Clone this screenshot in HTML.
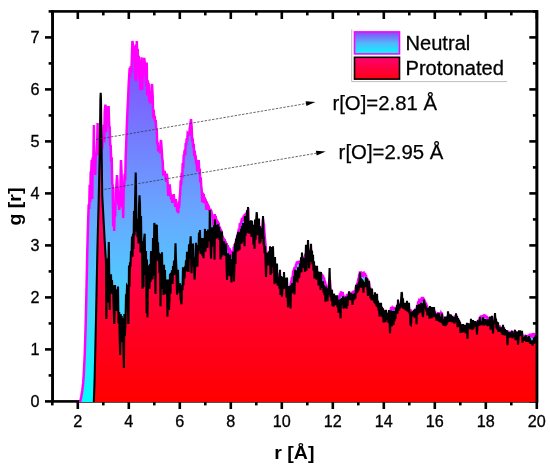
<!DOCTYPE html>
<html lang="en">
<head>
<meta charset="utf-8">
<title>g [r] vs r [Å] - Neutral / Protonated</title>
<style>
  html, body { margin: 0; padding: 0; background: #ffffff; }
  body { width: 550px; height: 471px; overflow: hidden; }
  svg { display: block; }
  text { font-family: "Liberation Sans", sans-serif; fill: #000; }
  .tick text { font-size: 16.2px; stroke: #000; stroke-width: 0.3px; }
  .axis-title { font-size: 18.5px; font-weight: bold; }
  .legend text { font-size: 20.1px; stroke: #000; stroke-width: 0.3px; }
  .note { font-size: 20px; stroke: #000; stroke-width: 0.25px; }
</style>
</head>
<body>
<svg width="550" height="471" viewBox="0 0 550 471">
  <defs>
    <linearGradient id="gNeutral" gradientUnits="userSpaceOnUse" x1="0" y1="41" x2="0" y2="401.3">
      <stop offset="0" stop-color="#8444ff"/>
      <stop offset="0.47" stop-color="#68a6ff"/>
      <stop offset="0.72" stop-color="#4cd2ff"/>
      <stop offset="1" stop-color="#00ffff"/>
    </linearGradient>
    <linearGradient id="gProt" gradientUnits="userSpaceOnUse" x1="0" y1="93" x2="0" y2="401.3">
      <stop offset="0" stop-color="#ff00a0"/>
      <stop offset="1" stop-color="#ff0000"/>
    </linearGradient>
    <linearGradient id="gNeutralL" x1="0" y1="0" x2="0" y2="1">
      <stop offset="0" stop-color="#8848f6"/>
      <stop offset="0.5" stop-color="#54b4fc"/>
      <stop offset="1" stop-color="#06fcfe"/>
    </linearGradient>
    <linearGradient id="gProtL" x1="0" y1="0" x2="0" y2="1">
      <stop offset="0" stop-color="#ff0070"/>
      <stop offset="1" stop-color="#ff0014"/>
    </linearGradient>
    <clipPath id="plotclip"><rect x="52.6" y="11.4" width="484.29999999999995" height="390.8"/></clipPath>
  </defs>
  <rect x="0" y="0" width="550" height="471" fill="#ffffff"/>

  <!-- axes frame -->
  <g stroke="#000" stroke-width="2.6" fill="none" stroke-linecap="butt">
    <rect x="52.6" y="11.4" width="484.29999999999995" height="390.0"/>
    <line x1="52.3" y1="401.4" x2="52.3" y2="405.4"/><line x1="52.3" y1="11.4" x2="52.3" y2="15.4"/><line x1="77.8" y1="401.4" x2="77.8" y2="409.0"/><line x1="77.8" y1="11.4" x2="77.8" y2="19.0"/><line x1="103.3" y1="401.4" x2="103.3" y2="405.4"/><line x1="103.3" y1="11.4" x2="103.3" y2="15.4"/><line x1="128.8" y1="401.4" x2="128.8" y2="409.0"/><line x1="128.8" y1="11.4" x2="128.8" y2="19.0"/><line x1="154.3" y1="401.4" x2="154.3" y2="405.4"/><line x1="154.3" y1="11.4" x2="154.3" y2="15.4"/><line x1="179.8" y1="401.4" x2="179.8" y2="409.0"/><line x1="179.8" y1="11.4" x2="179.8" y2="19.0"/><line x1="205.3" y1="401.4" x2="205.3" y2="405.4"/><line x1="205.3" y1="11.4" x2="205.3" y2="15.4"/><line x1="230.8" y1="401.4" x2="230.8" y2="409.0"/><line x1="230.8" y1="11.4" x2="230.8" y2="19.0"/><line x1="256.3" y1="401.4" x2="256.3" y2="405.4"/><line x1="256.3" y1="11.4" x2="256.3" y2="15.4"/><line x1="281.8" y1="401.4" x2="281.8" y2="409.0"/><line x1="281.8" y1="11.4" x2="281.8" y2="19.0"/><line x1="307.3" y1="401.4" x2="307.3" y2="405.4"/><line x1="307.3" y1="11.4" x2="307.3" y2="15.4"/><line x1="332.8" y1="401.4" x2="332.8" y2="409.0"/><line x1="332.8" y1="11.4" x2="332.8" y2="19.0"/><line x1="358.3" y1="401.4" x2="358.3" y2="405.4"/><line x1="358.3" y1="11.4" x2="358.3" y2="15.4"/><line x1="383.8" y1="401.4" x2="383.8" y2="409.0"/><line x1="383.8" y1="11.4" x2="383.8" y2="19.0"/><line x1="409.3" y1="401.4" x2="409.3" y2="405.4"/><line x1="409.3" y1="11.4" x2="409.3" y2="15.4"/><line x1="434.8" y1="401.4" x2="434.8" y2="409.0"/><line x1="434.8" y1="11.4" x2="434.8" y2="19.0"/><line x1="460.3" y1="401.4" x2="460.3" y2="405.4"/><line x1="460.3" y1="11.4" x2="460.3" y2="15.4"/><line x1="485.8" y1="401.4" x2="485.8" y2="409.0"/><line x1="485.8" y1="11.4" x2="485.8" y2="19.0"/><line x1="511.3" y1="401.4" x2="511.3" y2="405.4"/><line x1="511.3" y1="11.4" x2="511.3" y2="15.4"/><line x1="536.8" y1="401.4" x2="536.8" y2="409.0"/><line x1="536.8" y1="11.4" x2="536.8" y2="19.0"/><line x1="52.6" y1="401.4" x2="45.0" y2="401.4"/><line x1="536.9" y1="401.4" x2="529.3" y2="401.4"/><line x1="52.6" y1="375.4" x2="48.6" y2="375.4"/><line x1="536.9" y1="375.4" x2="532.9" y2="375.4"/><line x1="52.6" y1="349.4" x2="45.0" y2="349.4"/><line x1="536.9" y1="349.4" x2="529.3" y2="349.4"/><line x1="52.6" y1="323.4" x2="48.6" y2="323.4"/><line x1="536.9" y1="323.4" x2="532.9" y2="323.4"/><line x1="52.6" y1="297.4" x2="45.0" y2="297.4"/><line x1="536.9" y1="297.4" x2="529.3" y2="297.4"/><line x1="52.6" y1="271.4" x2="48.6" y2="271.4"/><line x1="536.9" y1="271.4" x2="532.9" y2="271.4"/><line x1="52.6" y1="245.4" x2="45.0" y2="245.4"/><line x1="536.9" y1="245.4" x2="529.3" y2="245.4"/><line x1="52.6" y1="219.4" x2="48.6" y2="219.4"/><line x1="536.9" y1="219.4" x2="532.9" y2="219.4"/><line x1="52.6" y1="193.4" x2="45.0" y2="193.4"/><line x1="536.9" y1="193.4" x2="529.3" y2="193.4"/><line x1="52.6" y1="167.4" x2="48.6" y2="167.4"/><line x1="536.9" y1="167.4" x2="532.9" y2="167.4"/><line x1="52.6" y1="141.4" x2="45.0" y2="141.4"/><line x1="536.9" y1="141.4" x2="529.3" y2="141.4"/><line x1="52.6" y1="115.4" x2="48.6" y2="115.4"/><line x1="536.9" y1="115.4" x2="532.9" y2="115.4"/><line x1="52.6" y1="89.4" x2="45.0" y2="89.4"/><line x1="536.9" y1="89.4" x2="529.3" y2="89.4"/><line x1="52.6" y1="63.4" x2="48.6" y2="63.4"/><line x1="536.9" y1="63.4" x2="532.9" y2="63.4"/><line x1="52.6" y1="37.4" x2="45.0" y2="37.4"/><line x1="536.9" y1="37.4" x2="529.3" y2="37.4"/><line x1="52.6" y1="11.4" x2="48.6" y2="11.4"/><line x1="536.9" y1="11.4" x2="532.9" y2="11.4"/>
  </g>

  <!-- data -->
  <g clip-path="url(#plotclip)">
    <path d="M80.2 402.2 L80.7 399.5 L81.2 397.0 L81.7 394.0 L82.2 391.0 L82.7 386.8 L83.2 382.7 L83.7 375.2 L84.2 365.6 L84.7 355.9 L85.2 340.4 L85.7 323.4 L86.2 302.9 L86.7 280.0 L87.2 255.0 L87.7 236.0 L88.2 218.5 L88.7 204.2 L89.2 208.9 L89.7 184.7 L90.2 202.6 L90.7 171.6 L91.2 173.0 L91.7 159.9 L92.2 199.2 L92.7 157.3 L93.2 168.9 L93.9 125.0 L94.2 163.4 L94.7 160.0 L95.2 174.9 L95.7 156.2 L96.2 154.5 L96.7 152.2 L97.2 141.4 L97.6 123.0 L98.2 155.0 L98.7 150.8 L99.2 152.2 L99.7 151.1 L100.2 152.2 L100.7 145.1 L101.2 144.8 L101.7 145.6 L102.2 149.2 L102.7 138.0 L103.2 140.0 L103.7 124.8 L104.2 142.5 L104.7 111.8 L105.4 104.7 L105.7 106.7 L106.2 132.1 L106.7 112.4 L107.2 115.0 L107.7 106.7 L108.2 114.3 L108.6 106.0 L109.2 125.9 L109.7 127.0 L110.2 145.1 L110.7 145.6 L111.2 162.3 L111.7 157.3 L112.2 183.6 L112.7 185.1 L113.2 226.4 L113.7 210.7 L114.2 231.0 L114.7 203.2 L115.2 216.4 L115.7 188.5 L116.2 188.1 L116.7 181.1 L117.0 175.0 L117.7 187.5 L118.2 204.6 L118.7 199.2 L119.2 210.0 L119.7 204.7 L120.2 201.7 L120.7 171.1 L121.0 160.0 L121.7 177.1 L122.2 207.4 L122.7 196.9 L123.2 218.1 L123.7 189.8 L124.2 184.6 L124.7 173.9 L125.2 180.4 L125.7 156.2 L126.2 144.5 L126.7 129.5 L127.2 116.8 L127.7 106.0 L128.2 96.4 L128.7 83.5 L129.2 75.9 L129.7 67.8 L130.2 77.1 L130.7 66.0 L131.2 72.5 L131.7 62.9 L132.4 41.0 L132.7 42.3 L133.2 61.2 L133.7 47.7 L134.2 54.9 L134.6 46.0 L135.2 79.4 L135.7 44.5 L136.2 81.3 L136.8 41.0 L137.2 60.7 L137.7 48.7 L138.2 71.0 L138.7 55.7 L139.2 79.3 L139.7 60.6 L140.2 90.2 L140.7 74.4 L141.2 83.2 L141.5 57.3 L142.2 89.9 L142.7 62.9 L143.2 77.1 L143.7 67.2 L144.2 57.8 L144.7 62.3 L145.2 65.8 L145.7 62.9 L146.2 86.0 L146.7 62.4 L147.2 95.6 L147.7 80.3 L148.2 85.1 L148.7 83.3 L149.2 101.5 L149.7 91.0 L150.2 103.4 L150.7 96.5 L151.2 102.8 L151.7 85.5 L152.0 84.0 L152.7 96.5 L153.2 117.8 L153.7 109.8 L154.2 119.5 L154.7 115.8 L155.2 122.5 L155.7 120.1 L156.2 128.7 L156.7 129.6 L157.2 143.6 L157.7 142.0 L158.2 151.4 L158.7 148.1 L159.2 149.1 L159.7 147.5 L160.2 153.5 L160.7 141.4 L161.0 140.0 L161.7 149.6 L162.2 158.3 L162.7 161.3 L163.2 173.1 L163.7 172.5 L164.2 175.3 L164.7 171.0 L165.2 175.9 L165.7 176.8 L166.2 181.8 L166.7 173.6 L167.2 176.6 L167.7 183.9 L168.2 196.0 L168.7 185.6 L169.2 188.1 L169.7 184.4 L170.2 190.5 L170.7 194.7 L171.2 199.5 L171.7 194.8 L172.2 203.0 L172.7 197.0 L173.2 201.4 L173.7 194.0 L174.2 199.9 L174.7 200.7 L175.2 206.8 L175.7 199.1 L176.2 203.5 L176.7 205.9 L177.2 211.7 L177.7 209.2 L178.2 213.1 L178.7 204.4 L179.2 205.0 L179.7 197.6 L180.2 192.7 L180.7 180.4 L181.2 185.1 L181.7 172.9 L182.2 178.8 L182.7 163.0 L183.2 168.8 L183.7 155.6 L184.2 154.0 L184.7 150.0 L185.2 155.5 L185.7 143.0 L186.2 145.3 L186.7 138.3 L187.2 140.7 L187.7 133.3 L188.2 133.9 L188.7 133.8 L189.2 135.6 L189.7 128.6 L190.2 125.1 L190.7 122.0 L191.0 119.0 L191.7 127.9 L192.2 141.8 L192.7 138.2 L193.2 147.6 L193.7 143.7 L194.2 156.1 L194.7 150.5 L195.2 157.3 L195.7 157.0 L196.2 164.3 L196.7 159.9 L197.2 171.5 L197.7 162.2 L198.2 165.0 L198.7 160.0 L199.2 171.8 L199.7 168.5 L200.2 182.1 L200.7 177.4 L201.2 185.4 L201.7 190.1 L202.2 202.4 L202.7 192.5 L203.2 200.7 L203.7 193.9 L204.2 203.1 L204.7 197.7 L205.2 199.4 L205.7 200.2 L206.2 209.7 L206.7 201.4 L207.2 206.2 L207.7 203.6 L208.2 210.0 L208.7 205.5 L209.2 211.2 L209.7 208.8 L210.2 210.4 L210.7 210.2 L211.2 214.2 L211.7 213.4 L212.2 216.8 L212.7 218.1 L213.2 225.4 L213.7 215.8 L214.2 220.1 L214.7 214.2 L215.2 217.5 L215.7 215.8 L216.2 223.2 L216.7 219.3 L217.2 223.6 L217.7 220.8 L218.2 225.3 L218.7 222.6 L219.2 229.3 L219.7 226.7 L220.2 231.2 L220.7 228.8 L221.2 233.1 L221.7 232.7 L222.2 239.3 L222.7 235.9 L223.2 239.5 L223.7 237.9 L224.2 243.3 L224.7 239.2 L225.2 243.4 L225.7 241.3 L226.2 247.9 L226.7 243.2 L227.2 249.7 L227.7 245.2 L228.2 248.4 L228.7 247.3 L229.2 253.6 L229.7 248.5 L230.2 253.3 L230.7 250.4 L231.2 257.7 L231.7 252.3 L232.2 254.2 L232.7 250.6 L233.2 254.5 L233.7 246.9 L234.2 249.4 L234.7 244.0 L235.2 248.9 L235.7 241.3 L236.2 245.4 L236.7 237.5 L237.2 239.7 L237.7 233.4 L238.2 235.0 L238.7 228.8 L239.2 231.8 L239.7 225.3 L240.2 225.7 L240.7 223.2 L241.2 222.1 L241.7 219.7 L242.2 220.3 L242.7 218.9 L243.2 218.7 L243.7 215.6 L244.2 220.9 L244.7 214.1 L245.2 219.4 L245.7 213.4 L246.2 217.7 L246.7 212.3 L247.2 214.5 L247.7 210.6 L248.2 210.3 L248.5 225.1 L249.0 223.6 L249.5 228.9 L250.0 226.6 L250.5 229.7 L251.0 226.0 L251.5 227.9 L252.0 227.5 L252.5 230.2 L253.0 227.3 L253.5 229.7 L254.0 228.8 L254.5 229.4 L255.0 227.1 L255.5 230.1 L256.0 226.3 L256.5 227.7 L257.0 225.3 L257.5 227.4 L258.0 225.8 L258.5 227.0 L259.0 226.3 L259.5 230.7 L260.0 227.0 L260.5 230.5 L261.0 227.9 L261.5 230.9 L262.0 227.6 L262.5 226.2 L263.0 219.0 L263.5 223.3 L264.0 224.3 L264.5 234.2 L265.0 238.5 L265.5 245.0 L266.0 250.2 L266.5 256.1 L267.0 253.7 L267.5 257.6 L268.0 256.6 L268.5 259.9 L269.0 260.4 L269.5 260.7 L270.0 258.2 L270.5 259.3 L271.0 256.9 L271.5 258.8 L272.0 254.0 L272.5 258.9 L273.0 259.2 L273.5 264.1 L274.0 263.8 L274.5 268.6 L275.0 267.5 L275.5 270.1 L276.0 270.7 L276.5 273.5 L277.0 272.4 L277.5 274.7 L278.0 274.7 L278.5 277.5 L279.0 276.3 L279.5 279.1 L280.0 278.2 L280.5 282.5 L281.0 281.0 L281.5 284.1 L282.0 281.7 L282.5 286.4 L283.0 283.2 L283.5 286.3 L284.0 284.1 L284.5 288.7 L285.0 285.6 L285.5 289.2 L286.0 285.5 L286.5 289.0 L287.0 287.3 L287.5 288.9 L288.0 287.3 L288.5 291.1 L289.0 287.7 L289.5 291.3 L290.0 287.1 L290.5 285.7 L291.0 282.2 L291.5 280.9 L292.0 277.0 L292.5 279.0 L293.0 272.8 L293.5 273.3 L294.0 269.7 L294.5 270.1 L295.0 266.7 L295.5 268.4 L296.0 264.5 L296.5 264.0 L297.0 261.6 L297.5 263.4 L298.0 261.4 L298.5 263.8 L299.0 260.6 L299.5 262.6 L300.0 263.1 L300.5 264.5 L301.0 261.7 L301.5 262.5 L302.0 260.3 L302.5 263.9 L303.0 259.3 L303.5 261.2 L304.0 258.5 L304.5 258.9 L305.0 256.1 L305.5 256.7 L306.0 254.1 L306.5 257.8 L307.0 252.5 L307.5 253.9 L308.0 248.0 L308.5 252.6 L309.0 250.1 L309.5 253.6 L310.0 250.9 L310.5 253.5 L311.0 249.3 L311.5 254.4 L312.0 255.4 L312.5 262.8 L313.0 261.4 L313.5 267.3 L314.0 268.3 L314.5 270.6 L315.0 268.9 L315.5 272.4 L316.0 269.4 L316.5 272.8 L317.0 271.1 L317.5 275.4 L318.0 274.0 L318.5 275.8 L319.0 274.0 L319.5 278.0 L320.0 276.0 L320.5 278.8 L321.0 274.9 L321.5 276.0 L322.0 273.9 L322.5 277.4 L323.0 275.1 L323.5 279.1 L324.0 277.4 L324.5 280.9 L325.0 281.5 L325.5 284.2 L326.0 285.2 L326.5 291.3 L327.0 290.2 L327.5 292.7 L328.0 288.6 L328.5 289.1 L329.0 282.6 L329.5 280.2 L330.0 280.7 L330.5 288.5 L331.0 289.3 L331.5 294.5 L332.0 293.4 L332.5 296.0 L333.0 295.1 L333.5 298.4 L334.0 296.2 L334.5 299.5 L335.0 297.8 L335.5 300.4 L336.0 300.4 L336.5 301.3 L337.0 300.9 L337.5 303.9 L338.0 300.2 L338.5 299.9 L339.0 297.0 L339.5 297.2 L340.0 293.4 L340.5 296.0 L341.0 291.3 L341.5 294.3 L342.0 292.3 L342.5 294.7 L343.0 294.2 L343.5 297.9 L344.0 296.8 L344.5 297.8 L345.0 296.2 L345.5 299.0 L346.0 296.0 L346.5 298.5 L347.0 294.0 L347.5 298.4 L348.0 294.2 L348.5 296.4 L349.0 293.2 L349.5 296.0 L350.0 292.0 L350.5 295.7 L351.0 292.6 L351.5 295.9 L352.0 291.9 L352.5 294.5 L353.0 291.1 L353.5 292.0 L354.0 290.6 L354.5 293.9 L355.0 290.6 L355.5 291.5 L356.0 287.4 L356.5 287.1 L357.0 284.0 L357.5 283.4 L358.0 280.9 L358.5 281.6 L359.0 276.4 L359.5 276.9 L360.0 271.3 L360.5 276.3 L361.0 273.5 L361.5 277.0 L362.0 273.9 L362.5 274.7 L363.0 273.8 L363.5 275.1 L364.0 274.1 L364.5 276.1 L365.0 272.9 L365.5 276.3 L366.0 274.8 L366.5 279.5 L367.0 277.9 L367.5 282.2 L368.0 279.4 L368.5 285.3 L369.0 282.7 L369.5 288.2 L370.0 286.9 L370.5 292.1 L371.0 289.8 L371.5 296.1 L372.0 294.3 L372.5 298.1 L373.0 295.2 L373.5 296.8 L374.0 296.9 L374.5 297.7 L375.0 297.6 L375.5 299.0 L376.0 298.1 L376.5 302.6 L377.0 300.5 L377.5 304.1 L378.0 302.9 L378.5 306.1 L379.0 305.6 L379.5 310.2 L380.0 308.2 L380.5 309.8 L381.0 308.2 L381.5 312.5 L382.0 309.8 L382.5 312.0 L383.0 310.3 L383.5 313.6 L384.0 311.5 L384.5 312.3 L385.0 312.3 L385.5 315.8 L386.0 313.2 L386.5 315.4 L387.0 313.9 L387.5 315.3 L388.0 314.7 L388.5 315.4 L389.0 312.8 L389.5 312.2 L390.0 311.2 L390.5 310.8 L391.0 308.4 L391.5 308.6 L392.0 307.8 L392.5 309.1 L393.0 306.8 L393.5 310.0 L394.0 307.9 L394.5 310.0 L395.0 308.7 L395.5 309.0 L396.0 307.2 L396.5 309.3 L397.0 308.2 L397.5 308.5 L398.0 305.1 L398.5 307.5 L399.0 304.8 L399.5 305.7 L400.0 305.2 L400.5 307.8 L401.0 302.1 L401.5 301.7 L402.0 300.4 L402.5 307.8 L403.0 304.8 L403.5 306.1 L404.0 304.8 L404.5 308.1 L405.0 304.3 L405.5 306.9 L406.0 306.1 L406.5 309.1 L407.0 305.7 L407.5 309.7 L408.0 308.2 L408.5 308.8 L409.0 309.0 L409.5 310.2 L410.0 310.1 L410.5 310.5 L411.0 309.6 L411.5 314.0 L412.0 310.8 L412.5 314.7 L413.0 310.9 L413.5 314.6 L414.0 310.7 L414.5 314.8 L415.0 311.0 L415.5 311.6 L416.0 309.1 L416.5 311.8 L417.0 306.9 L417.5 306.6 L418.0 303.0 L418.5 303.3 L419.0 301.1 L419.5 302.0 L420.0 299.0 L420.5 302.6 L421.0 298.5 L421.5 300.9 L422.0 296.9 L422.5 300.7 L423.0 296.9 L423.5 301.7 L424.0 298.7 L424.5 301.7 L425.0 300.9 L425.5 305.1 L426.0 302.8 L426.5 305.8 L427.0 305.9 L427.5 310.0 L428.0 307.9 L428.5 311.4 L429.0 308.4 L429.5 310.8 L430.0 308.9 L430.5 311.7 L431.0 309.3 L431.5 311.1 L432.0 308.4 L432.5 312.0 L433.0 309.6 L433.5 311.2 L434.0 309.8 L434.5 314.0 L435.0 311.2 L435.5 316.2 L436.0 313.2 L436.5 317.7 L437.0 314.1 L437.5 315.8 L438.0 313.5 L438.5 313.7 L439.0 312.4 L439.5 316.1 L440.0 312.6 L440.5 314.9 L441.0 313.2 L441.5 314.4 L442.0 314.1 L442.5 317.2 L443.0 317.7 L443.5 318.7 L444.0 317.8 L444.5 321.4 L445.0 320.1 L445.5 320.3 L446.0 317.4 L446.5 319.0 L447.0 316.8 L447.5 318.5 L448.0 315.3 L448.5 318.6 L449.0 315.4 L449.5 318.6 L450.0 316.5 L450.5 317.5 L451.0 316.9 L451.5 320.0 L452.0 317.0 L452.5 317.3 L453.0 315.9 L453.5 318.2 L454.0 316.2 L454.5 318.0 L455.0 317.1 L455.5 318.7 L456.0 316.8 L456.5 320.3 L457.0 317.3 L457.5 321.8 L458.0 318.7 L458.5 322.1 L459.0 320.8 L459.5 324.2 L460.0 323.3 L460.5 327.3 L461.0 324.3 L461.5 328.3 L462.0 325.5 L462.5 328.0 L463.0 325.7 L463.5 329.2 L464.0 326.8 L464.5 328.5 L465.0 326.8 L465.5 328.1 L466.0 327.3 L466.5 330.3 L467.0 326.7 L467.5 329.2 L468.0 325.6 L468.5 326.8 L469.0 325.1 L469.5 328.7 L470.0 324.3 L470.5 325.9 L471.0 323.9 L471.5 324.8 L472.0 323.8 L472.5 327.3 L473.0 322.9 L473.5 327.1 L474.0 322.5 L474.5 326.2 L475.0 322.6 L475.5 325.9 L476.0 323.4 L476.5 326.6 L477.0 321.3 L477.5 325.1 L478.0 320.2 L478.5 322.9 L479.0 318.8 L479.5 322.1 L480.0 316.6 L480.5 318.4 L481.0 315.4 L481.5 316.9 L482.0 315.7 L482.5 318.2 L483.0 315.1 L483.5 317.3 L484.0 314.6 L484.5 315.8 L485.0 314.7 L485.5 317.0 L486.0 315.7 L486.5 317.9 L487.0 316.0 L487.5 320.2 L488.0 317.7 L488.5 319.1 L489.0 318.9 L489.5 321.4 L490.0 320.5 L490.5 321.8 L491.0 320.8 L491.5 324.4 L492.0 320.4 L492.5 325.3 L493.0 320.6 L493.5 323.2 L494.0 321.6 L494.5 321.0 L495.0 317.2 L495.5 322.2 L496.0 322.1 L496.5 324.8 L497.0 322.9 L497.5 325.9 L498.0 324.8 L498.5 329.3 L499.0 325.6 L499.5 328.3 L500.0 327.3 L500.5 330.9 L501.0 328.5 L501.5 329.4 L502.0 328.5 L502.5 331.6 L503.0 329.9 L503.5 330.8 L504.0 330.7 L504.5 334.1 L505.0 331.1 L505.5 335.4 L506.0 331.0 L506.5 335.8 L507.0 332.6 L507.5 333.5 L508.0 333.0 L508.5 334.7 L509.0 332.9 L509.5 333.8 L510.0 333.0 L510.5 334.0 L511.0 333.1 L511.5 334.4 L512.0 332.2 L512.5 334.8 L513.0 332.9 L513.5 333.3 L514.0 332.5 L514.5 335.2 L515.0 331.9 L515.5 336.0 L516.0 331.5 L516.5 333.8 L517.0 332.9 L517.5 335.9 L518.0 332.2 L518.5 335.4 L519.0 332.5 L519.5 335.8 L520.0 333.6 L520.5 334.8 L521.0 334.4 L521.5 336.8 L522.0 333.4 L522.5 338.3 L523.0 334.8 L523.5 338.3 L524.0 335.0 L524.5 339.6 L525.0 336.3 L525.5 339.1 L526.0 337.2 L526.5 338.2 L527.0 336.8 L527.5 339.1 L528.0 334.8 L528.5 337.7 L529.0 334.6 L529.5 336.1 L530.0 333.9 L530.5 337.2 L531.0 333.6 L531.5 337.7 L532.0 334.3 L532.5 335.4 L533.0 333.4 L533.5 335.7 L534.0 333.1 L534.5 337.4 L535.0 333.4 L535.5 337.3 L536.0 335.9 L536.5 338.8 L536.8 336.4 L536.8 402.2 L80.2 402.2 Z" fill="url(#gNeutral)" stroke="none"/>
    <path d="M80.2 402.2 L80.7 399.5 L81.2 397.0 L81.7 394.0 L82.2 391.0 L82.7 386.8 L83.2 382.7 L83.7 375.2 L84.2 365.6 L84.7 355.9 L85.2 340.4 L85.7 323.4 L86.2 302.9 L86.7 280.0 L87.2 255.0 L87.7 236.0 L88.2 218.5 L88.7 204.2 L89.2 208.9 L89.7 184.7 L90.2 202.6 L90.7 171.6 L91.2 173.0 L91.7 159.9 L92.2 199.2 L92.7 157.3 L93.2 168.9 L93.9 125.0 L94.2 163.4 L94.7 160.0 L95.2 174.9 L95.7 156.2 L96.2 154.5 L96.7 152.2 L97.2 141.4 L97.6 123.0 L98.2 155.0 L98.7 150.8 L99.2 152.2 L99.7 151.1 L100.2 152.2 L100.7 145.1 L101.2 144.8 L101.7 145.6 L102.2 149.2 L102.7 138.0 L103.2 140.0 L103.7 124.8 L104.2 142.5 L104.7 111.8 L105.4 104.7 L105.7 106.7 L106.2 132.1 L106.7 112.4 L107.2 115.0 L107.7 106.7 L108.2 114.3 L108.6 106.0 L109.2 125.9 L109.7 127.0 L110.2 145.1 L110.7 145.6 L111.2 162.3 L111.7 157.3 L112.2 183.6 L112.7 185.1 L113.2 226.4 L113.7 210.7 L114.2 231.0 L114.7 203.2 L115.2 216.4 L115.7 188.5 L116.2 188.1 L116.7 181.1 L117.0 175.0 L117.7 187.5 L118.2 204.6 L118.7 199.2 L119.2 210.0 L119.7 204.7 L120.2 201.7 L120.7 171.1 L121.0 160.0 L121.7 177.1 L122.2 207.4 L122.7 196.9 L123.2 218.1 L123.7 189.8 L124.2 184.6 L124.7 173.9 L125.2 180.4 L125.7 156.2 L126.2 144.5 L126.7 129.5 L127.2 116.8 L127.7 106.0 L128.2 96.4 L128.7 83.5 L129.2 75.9 L129.7 67.8 L130.2 77.1 L130.7 66.0 L131.2 72.5 L131.7 62.9 L132.4 41.0 L132.7 42.3 L133.2 61.2 L133.7 47.7 L134.2 54.9 L134.6 46.0 L135.2 79.4 L135.7 44.5 L136.2 81.3 L136.8 41.0 L137.2 60.7 L137.7 48.7 L138.2 71.0 L138.7 55.7 L139.2 79.3 L139.7 60.6 L140.2 90.2 L140.7 74.4 L141.2 83.2 L141.5 57.3 L142.2 89.9 L142.7 62.9 L143.2 77.1 L143.7 67.2 L144.2 57.8 L144.7 62.3 L145.2 65.8 L145.7 62.9 L146.2 86.0 L146.7 62.4 L147.2 95.6 L147.7 80.3 L148.2 85.1 L148.7 83.3 L149.2 101.5 L149.7 91.0 L150.2 103.4 L150.7 96.5 L151.2 102.8 L151.7 85.5 L152.0 84.0 L152.7 96.5 L153.2 117.8 L153.7 109.8 L154.2 119.5 L154.7 115.8 L155.2 122.5 L155.7 120.1 L156.2 128.7 L156.7 129.6 L157.2 143.6 L157.7 142.0 L158.2 151.4 L158.7 148.1 L159.2 149.1 L159.7 147.5 L160.2 153.5 L160.7 141.4 L161.0 140.0 L161.7 149.6 L162.2 158.3 L162.7 161.3 L163.2 173.1 L163.7 172.5 L164.2 175.3 L164.7 171.0 L165.2 175.9 L165.7 176.8 L166.2 181.8 L166.7 173.6 L167.2 176.6 L167.7 183.9 L168.2 196.0 L168.7 185.6 L169.2 188.1 L169.7 184.4 L170.2 190.5 L170.7 194.7 L171.2 199.5 L171.7 194.8 L172.2 203.0 L172.7 197.0 L173.2 201.4 L173.7 194.0 L174.2 199.9 L174.7 200.7 L175.2 206.8 L175.7 199.1 L176.2 203.5 L176.7 205.9 L177.2 211.7 L177.7 209.2 L178.2 213.1 L178.7 204.4 L179.2 205.0 L179.7 197.6 L180.2 192.7 L180.7 180.4 L181.2 185.1 L181.7 172.9 L182.2 178.8 L182.7 163.0 L183.2 168.8 L183.7 155.6 L184.2 154.0 L184.7 150.0 L185.2 155.5 L185.7 143.0 L186.2 145.3 L186.7 138.3 L187.2 140.7 L187.7 133.3 L188.2 133.9 L188.7 133.8 L189.2 135.6 L189.7 128.6 L190.2 125.1 L190.7 122.0 L191.0 119.0 L191.7 127.9 L192.2 141.8 L192.7 138.2 L193.2 147.6 L193.7 143.7 L194.2 156.1 L194.7 150.5 L195.2 157.3 L195.7 157.0 L196.2 164.3 L196.7 159.9 L197.2 171.5 L197.7 162.2 L198.2 165.0 L198.7 160.0 L199.2 171.8 L199.7 168.5 L200.2 182.1 L200.7 177.4 L201.2 185.4 L201.7 190.1 L202.2 202.4 L202.7 192.5 L203.2 200.7 L203.7 193.9 L204.2 203.1 L204.7 197.7 L205.2 199.4 L205.7 200.2 L206.2 209.7 L206.7 201.4 L207.2 206.2 L207.7 203.6 L208.2 210.0 L208.7 205.5 L209.2 211.2 L209.7 208.8 L210.2 210.4 L210.7 210.2 L211.2 214.2 L211.7 213.4 L212.2 216.8 L212.7 218.1 L213.2 225.4 L213.7 215.8 L214.2 220.1 L214.7 214.2 L215.2 217.5 L215.7 215.8 L216.2 223.2 L216.7 219.3 L217.2 223.6 L217.7 220.8 L218.2 225.3 L218.7 222.6 L219.2 229.3 L219.7 226.7 L220.2 231.2 L220.7 228.8 L221.2 233.1 L221.7 232.7 L222.2 239.3 L222.7 235.9 L223.2 239.5 L223.7 237.9 L224.2 243.3 L224.7 239.2 L225.2 243.4 L225.7 241.3 L226.2 247.9 L226.7 243.2 L227.2 249.7 L227.7 245.2 L228.2 248.4 L228.7 247.3 L229.2 253.6 L229.7 248.5 L230.2 253.3 L230.7 250.4 L231.2 257.7 L231.7 252.3 L232.2 254.2 L232.7 250.6 L233.2 254.5 L233.7 246.9 L234.2 249.4 L234.7 244.0 L235.2 248.9 L235.7 241.3 L236.2 245.4 L236.7 237.5 L237.2 239.7 L237.7 233.4 L238.2 235.0 L238.7 228.8 L239.2 231.8 L239.7 225.3 L240.2 225.7 L240.7 223.2 L241.2 222.1 L241.7 219.7 L242.2 220.3 L242.7 218.9 L243.2 218.7 L243.7 215.6 L244.2 220.9 L244.7 214.1 L245.2 219.4 L245.7 213.4 L246.2 217.7 L246.7 212.3 L247.2 214.5 L247.7 210.6 L248.2 210.3 L248.5 225.1 L249.0 223.6 L249.5 228.9 L250.0 226.6 L250.5 229.7 L251.0 226.0 L251.5 227.9 L252.0 227.5 L252.5 230.2 L253.0 227.3 L253.5 229.7 L254.0 228.8 L254.5 229.4 L255.0 227.1 L255.5 230.1 L256.0 226.3 L256.5 227.7 L257.0 225.3 L257.5 227.4 L258.0 225.8 L258.5 227.0 L259.0 226.3 L259.5 230.7 L260.0 227.0 L260.5 230.5 L261.0 227.9 L261.5 230.9 L262.0 227.6 L262.5 226.2 L263.0 219.0 L263.5 223.3 L264.0 224.3 L264.5 234.2 L265.0 238.5 L265.5 245.0 L266.0 250.2 L266.5 256.1 L267.0 253.7 L267.5 257.6 L268.0 256.6 L268.5 259.9 L269.0 260.4 L269.5 260.7 L270.0 258.2 L270.5 259.3 L271.0 256.9 L271.5 258.8 L272.0 254.0 L272.5 258.9 L273.0 259.2 L273.5 264.1 L274.0 263.8 L274.5 268.6 L275.0 267.5 L275.5 270.1 L276.0 270.7 L276.5 273.5 L277.0 272.4 L277.5 274.7 L278.0 274.7 L278.5 277.5 L279.0 276.3 L279.5 279.1 L280.0 278.2 L280.5 282.5 L281.0 281.0 L281.5 284.1 L282.0 281.7 L282.5 286.4 L283.0 283.2 L283.5 286.3 L284.0 284.1 L284.5 288.7 L285.0 285.6 L285.5 289.2 L286.0 285.5 L286.5 289.0 L287.0 287.3 L287.5 288.9 L288.0 287.3 L288.5 291.1 L289.0 287.7 L289.5 291.3 L290.0 287.1 L290.5 285.7 L291.0 282.2 L291.5 280.9 L292.0 277.0 L292.5 279.0 L293.0 272.8 L293.5 273.3 L294.0 269.7 L294.5 270.1 L295.0 266.7 L295.5 268.4 L296.0 264.5 L296.5 264.0 L297.0 261.6 L297.5 263.4 L298.0 261.4 L298.5 263.8 L299.0 260.6 L299.5 262.6 L300.0 263.1 L300.5 264.5 L301.0 261.7 L301.5 262.5 L302.0 260.3 L302.5 263.9 L303.0 259.3 L303.5 261.2 L304.0 258.5 L304.5 258.9 L305.0 256.1 L305.5 256.7 L306.0 254.1 L306.5 257.8 L307.0 252.5 L307.5 253.9 L308.0 248.0 L308.5 252.6 L309.0 250.1 L309.5 253.6 L310.0 250.9 L310.5 253.5 L311.0 249.3 L311.5 254.4 L312.0 255.4 L312.5 262.8 L313.0 261.4 L313.5 267.3 L314.0 268.3 L314.5 270.6 L315.0 268.9 L315.5 272.4 L316.0 269.4 L316.5 272.8 L317.0 271.1 L317.5 275.4 L318.0 274.0 L318.5 275.8 L319.0 274.0 L319.5 278.0 L320.0 276.0 L320.5 278.8 L321.0 274.9 L321.5 276.0 L322.0 273.9 L322.5 277.4 L323.0 275.1 L323.5 279.1 L324.0 277.4 L324.5 280.9 L325.0 281.5 L325.5 284.2 L326.0 285.2 L326.5 291.3 L327.0 290.2 L327.5 292.7 L328.0 288.6 L328.5 289.1 L329.0 282.6 L329.5 280.2 L330.0 280.7 L330.5 288.5 L331.0 289.3 L331.5 294.5 L332.0 293.4 L332.5 296.0 L333.0 295.1 L333.5 298.4 L334.0 296.2 L334.5 299.5 L335.0 297.8 L335.5 300.4 L336.0 300.4 L336.5 301.3 L337.0 300.9 L337.5 303.9 L338.0 300.2 L338.5 299.9 L339.0 297.0 L339.5 297.2 L340.0 293.4 L340.5 296.0 L341.0 291.3 L341.5 294.3 L342.0 292.3 L342.5 294.7 L343.0 294.2 L343.5 297.9 L344.0 296.8 L344.5 297.8 L345.0 296.2 L345.5 299.0 L346.0 296.0 L346.5 298.5 L347.0 294.0 L347.5 298.4 L348.0 294.2 L348.5 296.4 L349.0 293.2 L349.5 296.0 L350.0 292.0 L350.5 295.7 L351.0 292.6 L351.5 295.9 L352.0 291.9 L352.5 294.5 L353.0 291.1 L353.5 292.0 L354.0 290.6 L354.5 293.9 L355.0 290.6 L355.5 291.5 L356.0 287.4 L356.5 287.1 L357.0 284.0 L357.5 283.4 L358.0 280.9 L358.5 281.6 L359.0 276.4 L359.5 276.9 L360.0 271.3 L360.5 276.3 L361.0 273.5 L361.5 277.0 L362.0 273.9 L362.5 274.7 L363.0 273.8 L363.5 275.1 L364.0 274.1 L364.5 276.1 L365.0 272.9 L365.5 276.3 L366.0 274.8 L366.5 279.5 L367.0 277.9 L367.5 282.2 L368.0 279.4 L368.5 285.3 L369.0 282.7 L369.5 288.2 L370.0 286.9 L370.5 292.1 L371.0 289.8 L371.5 296.1 L372.0 294.3 L372.5 298.1 L373.0 295.2 L373.5 296.8 L374.0 296.9 L374.5 297.7 L375.0 297.6 L375.5 299.0 L376.0 298.1 L376.5 302.6 L377.0 300.5 L377.5 304.1 L378.0 302.9 L378.5 306.1 L379.0 305.6 L379.5 310.2 L380.0 308.2 L380.5 309.8 L381.0 308.2 L381.5 312.5 L382.0 309.8 L382.5 312.0 L383.0 310.3 L383.5 313.6 L384.0 311.5 L384.5 312.3 L385.0 312.3 L385.5 315.8 L386.0 313.2 L386.5 315.4 L387.0 313.9 L387.5 315.3 L388.0 314.7 L388.5 315.4 L389.0 312.8 L389.5 312.2 L390.0 311.2 L390.5 310.8 L391.0 308.4 L391.5 308.6 L392.0 307.8 L392.5 309.1 L393.0 306.8 L393.5 310.0 L394.0 307.9 L394.5 310.0 L395.0 308.7 L395.5 309.0 L396.0 307.2 L396.5 309.3 L397.0 308.2 L397.5 308.5 L398.0 305.1 L398.5 307.5 L399.0 304.8 L399.5 305.7 L400.0 305.2 L400.5 307.8 L401.0 302.1 L401.5 301.7 L402.0 300.4 L402.5 307.8 L403.0 304.8 L403.5 306.1 L404.0 304.8 L404.5 308.1 L405.0 304.3 L405.5 306.9 L406.0 306.1 L406.5 309.1 L407.0 305.7 L407.5 309.7 L408.0 308.2 L408.5 308.8 L409.0 309.0 L409.5 310.2 L410.0 310.1 L410.5 310.5 L411.0 309.6 L411.5 314.0 L412.0 310.8 L412.5 314.7 L413.0 310.9 L413.5 314.6 L414.0 310.7 L414.5 314.8 L415.0 311.0 L415.5 311.6 L416.0 309.1 L416.5 311.8 L417.0 306.9 L417.5 306.6 L418.0 303.0 L418.5 303.3 L419.0 301.1 L419.5 302.0 L420.0 299.0 L420.5 302.6 L421.0 298.5 L421.5 300.9 L422.0 296.9 L422.5 300.7 L423.0 296.9 L423.5 301.7 L424.0 298.7 L424.5 301.7 L425.0 300.9 L425.5 305.1 L426.0 302.8 L426.5 305.8 L427.0 305.9 L427.5 310.0 L428.0 307.9 L428.5 311.4 L429.0 308.4 L429.5 310.8 L430.0 308.9 L430.5 311.7 L431.0 309.3 L431.5 311.1 L432.0 308.4 L432.5 312.0 L433.0 309.6 L433.5 311.2 L434.0 309.8 L434.5 314.0 L435.0 311.2 L435.5 316.2 L436.0 313.2 L436.5 317.7 L437.0 314.1 L437.5 315.8 L438.0 313.5 L438.5 313.7 L439.0 312.4 L439.5 316.1 L440.0 312.6 L440.5 314.9 L441.0 313.2 L441.5 314.4 L442.0 314.1 L442.5 317.2 L443.0 317.7 L443.5 318.7 L444.0 317.8 L444.5 321.4 L445.0 320.1 L445.5 320.3 L446.0 317.4 L446.5 319.0 L447.0 316.8 L447.5 318.5 L448.0 315.3 L448.5 318.6 L449.0 315.4 L449.5 318.6 L450.0 316.5 L450.5 317.5 L451.0 316.9 L451.5 320.0 L452.0 317.0 L452.5 317.3 L453.0 315.9 L453.5 318.2 L454.0 316.2 L454.5 318.0 L455.0 317.1 L455.5 318.7 L456.0 316.8 L456.5 320.3 L457.0 317.3 L457.5 321.8 L458.0 318.7 L458.5 322.1 L459.0 320.8 L459.5 324.2 L460.0 323.3 L460.5 327.3 L461.0 324.3 L461.5 328.3 L462.0 325.5 L462.5 328.0 L463.0 325.7 L463.5 329.2 L464.0 326.8 L464.5 328.5 L465.0 326.8 L465.5 328.1 L466.0 327.3 L466.5 330.3 L467.0 326.7 L467.5 329.2 L468.0 325.6 L468.5 326.8 L469.0 325.1 L469.5 328.7 L470.0 324.3 L470.5 325.9 L471.0 323.9 L471.5 324.8 L472.0 323.8 L472.5 327.3 L473.0 322.9 L473.5 327.1 L474.0 322.5 L474.5 326.2 L475.0 322.6 L475.5 325.9 L476.0 323.4 L476.5 326.6 L477.0 321.3 L477.5 325.1 L478.0 320.2 L478.5 322.9 L479.0 318.8 L479.5 322.1 L480.0 316.6 L480.5 318.4 L481.0 315.4 L481.5 316.9 L482.0 315.7 L482.5 318.2 L483.0 315.1 L483.5 317.3 L484.0 314.6 L484.5 315.8 L485.0 314.7 L485.5 317.0 L486.0 315.7 L486.5 317.9 L487.0 316.0 L487.5 320.2 L488.0 317.7 L488.5 319.1 L489.0 318.9 L489.5 321.4 L490.0 320.5 L490.5 321.8 L491.0 320.8 L491.5 324.4 L492.0 320.4 L492.5 325.3 L493.0 320.6 L493.5 323.2 L494.0 321.6 L494.5 321.0 L495.0 317.2 L495.5 322.2 L496.0 322.1 L496.5 324.8 L497.0 322.9 L497.5 325.9 L498.0 324.8 L498.5 329.3 L499.0 325.6 L499.5 328.3 L500.0 327.3 L500.5 330.9 L501.0 328.5 L501.5 329.4 L502.0 328.5 L502.5 331.6 L503.0 329.9 L503.5 330.8 L504.0 330.7 L504.5 334.1 L505.0 331.1 L505.5 335.4 L506.0 331.0 L506.5 335.8 L507.0 332.6 L507.5 333.5 L508.0 333.0 L508.5 334.7 L509.0 332.9 L509.5 333.8 L510.0 333.0 L510.5 334.0 L511.0 333.1 L511.5 334.4 L512.0 332.2 L512.5 334.8 L513.0 332.9 L513.5 333.3 L514.0 332.5 L514.5 335.2 L515.0 331.9 L515.5 336.0 L516.0 331.5 L516.5 333.8 L517.0 332.9 L517.5 335.9 L518.0 332.2 L518.5 335.4 L519.0 332.5 L519.5 335.8 L520.0 333.6 L520.5 334.8 L521.0 334.4 L521.5 336.8 L522.0 333.4 L522.5 338.3 L523.0 334.8 L523.5 338.3 L524.0 335.0 L524.5 339.6 L525.0 336.3 L525.5 339.1 L526.0 337.2 L526.5 338.2 L527.0 336.8 L527.5 339.1 L528.0 334.8 L528.5 337.7 L529.0 334.6 L529.5 336.1 L530.0 333.9 L530.5 337.2 L531.0 333.6 L531.5 337.7 L532.0 334.3 L532.5 335.4 L533.0 333.4 L533.5 335.7 L534.0 333.1 L534.5 337.4 L535.0 333.4 L535.5 337.3 L536.0 335.9 L536.5 338.8 L536.8 336.4" fill="none" stroke="#ff00ff" stroke-width="2.5" stroke-linejoin="miter" stroke-miterlimit="3"/>
    <path d="M93.8 402.2 L94.6 380.0 L95.3 350.0 L96.0 320.0 L96.6 290.0 L97.4 250.0 L98.7 200.0 L99.8 150.0 L100.4 100.0 L100.7 92.7 L101.0 100.0 L101.4 135.0 L102.2 195.0 L103.3 215.0 L104.3 234.0 L105.2 250.0 L106.0 262.0 L106.3 319.0 L107.0 268.0 L107.5 302.4 L108.0 258.2 L108.5 264.1 L108.8 242.0 L109.7 310.0 L110.0 274.2 L110.5 289.0 L111.0 274.4 L111.5 293.7 L112.0 280.0 L112.5 293.5 L113.0 285.2 L113.5 300.4 L114.2 324.0 L114.5 313.4 L115.0 285.1 L115.5 303.7 L116.0 293.5 L116.5 310.9 L117.0 289.2 L117.5 308.8 L118.0 286.5 L118.5 323.2 L119.2 312.0 L119.7 338.0 L120.2 355.0 L120.7 314.0 L121.2 336.0 L121.7 316.0 L122.2 342.0 L122.5 329.2 L122.8 318.0 L123.4 346.0 L123.9 368.0 L124.4 314.0 L124.9 336.0 L125.5 322.1 L126.0 294.2 L126.5 301.4 L127.0 286.0 L127.5 286.9 L128.0 310.5 L128.4 324.0 L129.0 265.5 L129.5 286.7 L130.0 262.3 L130.5 266.8 L131.0 251.1 L131.5 257.4 L132.0 236.6 L132.5 256.8 L133.0 233.7 L133.5 249.0 L134.0 211.0 L134.5 235.4 L135.0 205.3 L135.7 172.5 L136.0 186.0 L136.5 231.4 L137.0 221.6 L137.5 237.1 L138.0 218.7 L138.5 243.5 L139.0 206.9 L139.5 195.4 L140.0 204.5 L140.5 252.4 L141.0 216.0 L141.5 248.9 L142.0 240.9 L142.5 288.7 L143.0 256.4 L143.5 287.0 L144.0 239.8 L144.7 233.7 L145.0 252.4 L145.5 275.0 L146.0 251.0 L146.6 313.0 L147.0 259.5 L147.5 317.5 L148.0 272.0 L148.5 283.0 L149.0 265.3 L149.5 288.8 L150.0 264.0 L150.5 281.9 L151.0 251.0 L151.5 277.6 L152.0 254.7 L152.5 279.5 L153.0 238.0 L153.5 275.8 L154.0 241.5 L154.3 222.9 L155.0 231.8 L155.5 294.0 L156.0 224.5 L156.5 261.1 L156.8 224.8 L157.5 253.4 L158.0 242.4 L158.5 260.6 L159.0 252.9 L159.5 273.2 L160.0 253.8 L160.5 306.2 L161.0 260.9 L161.5 289.0 L162.0 252.2 L162.5 279.8 L163.0 270.1 L163.5 295.0 L164.0 264.7 L164.5 293.7 L165.0 270.1 L165.5 294.2 L166.0 279.5 L166.5 291.2 L167.0 285.3 L167.5 316.8 L168.0 279.4 L168.5 300.1 L169.0 310.0 L169.5 299.6 L170.0 273.8 L170.5 293.8 L171.0 272.7 L171.5 278.7 L172.0 270.4 L172.5 284.0 L173.0 266.0 L173.5 275.2 L174.0 260.6 L174.5 274.8 L175.0 261.5 L175.5 243.3 L176.0 259.5 L176.5 270.3 L177.0 294.7 L177.5 281.3 L178.0 269.8 L178.5 289.6 L179.0 283.9 L179.5 293.0 L180.0 283.3 L180.5 298.2 L181.0 301.0 L181.5 304.3 L182.0 285.3 L182.5 290.3 L183.0 267.2 L183.5 285.2 L184.0 269.0 L184.5 278.8 L185.0 266.4 L185.5 269.0 L186.0 260.2 L186.5 271.5 L187.0 251.7 L187.5 269.1 L188.0 252.3 L188.5 272.0 L189.0 244.2 L189.5 258.4 L190.0 245.8 L190.7 236.3 L191.0 252.9 L191.5 273.3 L192.0 254.0 L192.5 264.1 L193.0 243.6 L193.5 266.8 L194.0 257.3 L194.5 279.6 L195.0 271.6 L195.5 261.6 L196.0 242.9 L196.5 263.8 L197.0 249.4 L197.5 266.8 L198.0 244.9 L198.5 250.7 L199.0 232.6 L199.5 250.8 L200.0 230.0 L200.5 253.8 L201.0 241.3 L201.5 254.2 L202.0 238.0 L202.5 255.6 L203.0 238.0 L203.5 258.2 L204.0 240.4 L204.5 247.4 L205.0 228.9 L205.5 251.7 L206.0 235.7 L206.5 242.0 L207.0 231.0 L207.5 247.7 L208.0 229.5 L208.5 237.9 L209.0 230.0 L209.5 241.2 L209.8 210.0 L210.5 243.0 L211.0 258.6 L211.5 243.9 L212.0 227.2 L212.5 246.7 L213.0 228.4 L213.5 241.2 L214.0 225.2 L214.5 259.7 L215.0 219.2 L215.5 236.1 L216.0 224.7 L216.5 238.6 L217.0 227.0 L217.5 233.7 L218.0 224.4 L218.5 237.7 L219.0 226.8 L219.5 240.0 L220.0 230.6 L220.5 259.5 L221.0 232.8 L221.5 256.8 L222.0 231.5 L222.5 253.5 L223.0 246.2 L223.5 255.2 L224.0 241.3 L224.5 254.4 L225.0 248.9 L225.5 256.0 L226.0 243.6 L226.5 262.8 L227.0 279.9 L227.5 264.8 L228.0 253.2 L228.5 271.2 L229.0 256.8 L229.5 276.1 L230.0 254.6 L230.5 271.6 L231.0 268.0 L231.5 282.5 L232.0 259.0 L232.5 269.9 L233.0 251.9 L233.5 260.7 L234.0 281.5 L234.5 262.7 L235.0 243.2 L235.5 264.0 L236.0 238.8 L236.5 251.5 L237.0 235.2 L237.5 251.5 L238.0 231.9 L238.5 250.7 L239.0 232.1 L239.5 249.9 L240.0 233.3 L240.5 241.4 L241.0 228.8 L241.5 243.6 L242.0 226.1 L242.5 241.7 L243.0 223.0 L243.5 235.2 L244.0 224.0 L244.5 246.3 L245.0 216.1 L245.5 235.6 L246.0 220.2 L246.5 233.3 L247.0 210.3 L247.5 232.7 L248.0 207.0 L248.5 232.7 L249.0 226.0 L249.5 233.7 L250.0 220.7 L250.5 232.2 L251.0 220.2 L251.5 236.9 L252.0 220.7 L252.5 232.9 L253.0 224.9 L253.5 244.7 L254.0 225.5 L254.5 248.7 L255.0 219.6 L255.5 239.6 L256.0 222.8 L256.7 212.0 L257.0 215.2 L257.5 235.3 L258.0 222.5 L258.5 234.7 L259.0 218.4 L259.5 243.6 L260.0 226.2 L260.5 242.5 L261.0 228.1 L261.5 235.9 L262.0 228.7 L262.5 239.0 L263.0 216.0 L263.5 241.0 L264.0 240.1 L264.5 253.1 L265.0 246.1 L265.5 258.7 L266.0 277.0 L266.5 259.6 L267.0 252.6 L267.5 263.2 L268.0 256.9 L268.5 265.4 L269.0 251.3 L269.5 264.0 L270.0 246.2 L270.5 275.0 L271.0 258.1 L271.5 273.2 L272.0 246.9 L272.5 261.6 L273.0 246.4 L273.5 266.9 L274.0 264.9 L274.5 284.1 L275.0 257.0 L275.5 276.3 L276.0 265.5 L276.5 282.9 L277.0 263.6 L277.5 285.4 L278.0 276.7 L278.5 285.6 L279.0 277.9 L279.5 288.7 L280.0 269.8 L280.5 295.0 L281.0 276.0 L281.5 293.6 L282.0 296.5 L282.5 286.0 L283.0 276.8 L283.5 289.0 L284.0 272.0 L284.5 285.0 L285.0 277.9 L285.5 288.3 L286.0 283.1 L286.5 297.5 L287.0 277.5 L287.5 292.4 L288.0 307.1 L288.5 293.0 L289.0 286.1 L289.5 294.7 L290.0 286.9 L290.5 308.4 L291.0 285.3 L291.5 291.5 L292.0 283.2 L292.5 293.1 L293.0 282.9 L293.5 292.5 L294.0 276.1 L294.5 294.5 L295.0 269.7 L295.5 280.8 L296.0 271.7 L296.5 281.0 L297.0 270.4 L297.5 282.5 L298.0 267.2 L298.5 274.9 L299.0 278.2 L299.5 273.6 L300.0 263.5 L300.5 272.5 L301.0 257.3 L301.5 272.1 L302.0 252.6 L302.5 265.8 L303.0 257.9 L303.5 267.6 L304.0 258.1 L304.5 265.7 L305.0 271.7 L305.5 262.4 L306.0 244.8 L306.5 270.8 L307.0 246.4 L307.5 257.8 L308.0 240.0 L308.5 254.1 L309.0 268.1 L309.5 262.7 L310.0 250.6 L310.5 261.6 L311.0 243.9 L311.5 257.9 L312.0 250.7 L312.5 264.5 L313.0 254.8 L313.5 270.8 L314.0 261.2 L314.5 278.4 L315.0 265.5 L315.5 278.0 L316.0 269.0 L316.5 279.8 L317.0 265.9 L317.5 277.4 L318.0 271.5 L318.5 285.4 L319.0 275.1 L319.5 283.1 L320.0 271.8 L320.5 290.0 L321.0 272.0 L321.5 287.9 L322.0 282.8 L322.5 287.8 L323.0 281.2 L323.5 292.5 L324.0 285.2 L324.5 295.2 L325.0 288.6 L325.5 301.6 L326.0 286.5 L326.5 299.0 L327.0 293.1 L327.5 301.3 L328.0 288.3 L328.5 295.1 L329.0 285.2 L329.6 268.0 L330.0 284.6 L330.5 297.2 L331.0 290.4 L331.5 300.9 L332.0 289.7 L332.5 305.9 L333.0 295.0 L333.5 306.7 L334.0 293.7 L334.5 299.7 L335.0 295.3 L335.5 305.2 L336.0 297.8 L336.5 303.3 L337.0 295.3 L337.5 307.1 L338.0 301.2 L338.5 312.6 L339.0 299.5 L339.5 308.6 L340.0 300.5 L340.5 318.5 L341.0 298.7 L341.5 304.7 L342.0 298.0 L342.5 304.5 L343.0 296.3 L343.5 308.8 L344.0 298.1 L344.5 302.7 L345.0 297.3 L345.5 307.9 L346.0 296.6 L346.5 308.7 L347.0 298.5 L347.5 305.9 L348.0 295.7 L348.5 300.2 L349.0 291.3 L349.5 299.0 L350.0 294.0 L350.5 300.1 L351.0 293.2 L351.5 299.8 L352.0 295.0 L352.5 304.9 L353.0 293.7 L353.5 300.3 L354.0 294.2 L354.5 299.3 L355.0 293.2 L355.5 298.2 L356.0 284.8 L356.5 293.4 L357.0 286.4 L357.5 292.5 L358.0 283.8 L358.5 290.8 L359.0 281.7 L359.5 282.8 L360.0 272.5 L360.5 287.4 L361.0 278.3 L361.5 287.6 L362.0 279.4 L362.5 286.0 L363.0 280.5 L363.5 292.7 L364.0 282.1 L364.5 287.4 L365.0 283.4 L365.5 286.1 L366.0 277.4 L366.5 286.9 L367.0 278.2 L367.5 288.8 L368.0 295.9 L368.5 290.5 L369.0 280.9 L369.5 293.2 L370.0 288.1 L370.5 298.4 L371.0 292.8 L371.5 300.1 L372.0 288.5 L372.5 297.0 L373.0 295.1 L373.5 300.8 L374.0 296.7 L374.5 302.8 L375.0 292.3 L375.5 304.3 L376.0 293.7 L376.5 306.3 L377.0 293.7 L377.5 307.1 L378.0 300.8 L378.5 310.5 L379.0 302.7 L379.5 316.5 L380.0 306.9 L380.5 316.5 L381.0 302.7 L381.5 315.4 L382.0 306.8 L382.5 317.3 L383.0 308.4 L383.5 322.4 L384.0 310.4 L384.5 316.6 L385.0 312.0 L385.5 322.2 L386.0 309.8 L386.5 320.1 L387.0 313.3 L387.5 319.4 L388.0 312.8 L388.5 323.0 L389.0 310.1 L389.5 318.6 L390.0 333.3 L390.5 320.7 L391.0 310.6 L391.5 323.4 L392.0 326.2 L392.5 319.1 L393.0 310.7 L393.5 325.0 L394.0 314.9 L394.5 321.1 L395.0 311.1 L395.5 319.0 L396.0 307.9 L396.5 314.0 L397.0 304.7 L397.5 313.4 L398.0 299.5 L398.5 310.9 L399.0 304.0 L399.5 309.2 L400.0 304.3 L400.5 307.4 L401.0 301.5 L401.6 292.0 L402.0 293.5 L402.5 307.6 L403.0 298.3 L403.5 308.9 L404.0 303.7 L404.5 307.8 L405.0 302.8 L405.5 310.5 L406.0 304.9 L406.5 309.2 L407.0 300.8 L407.5 311.4 L408.0 308.4 L408.5 312.2 L409.0 302.7 L409.5 313.8 L410.0 311.7 L410.5 324.7 L411.0 325.1 L411.5 314.2 L412.0 311.7 L412.5 314.4 L413.0 311.3 L413.5 316.1 L414.0 309.8 L414.5 317.8 L415.0 309.2 L415.5 315.2 L416.0 308.8 L416.5 324.3 L417.0 305.0 L417.5 314.9 L418.0 305.1 L418.5 309.4 L419.0 304.4 L419.5 313.3 L420.0 305.3 L420.5 312.1 L421.0 302.9 L421.5 308.0 L422.0 303.3 L422.5 314.0 L423.0 317.2 L423.5 309.5 L424.0 299.5 L424.5 306.5 L425.0 303.5 L425.5 308.1 L426.0 306.4 L426.5 311.3 L427.0 308.4 L427.5 315.3 L428.0 308.1 L428.5 314.0 L429.0 307.6 L429.5 318.7 L430.0 306.1 L430.5 314.0 L431.0 307.4 L431.5 318.3 L432.0 307.1 L432.5 317.4 L433.0 311.4 L433.5 316.7 L434.0 307.0 L434.5 316.0 L435.0 312.7 L435.5 317.4 L436.0 314.2 L436.5 320.6 L437.0 314.7 L437.5 319.0 L438.0 313.0 L438.5 321.0 L439.0 313.1 L439.5 322.2 L440.0 316.8 L440.5 322.2 L441.0 316.7 L441.5 322.8 L442.0 313.5 L442.5 323.8 L443.0 321.2 L443.5 325.6 L444.0 319.2 L444.5 323.3 L445.0 316.5 L445.5 326.2 L446.0 316.6 L446.5 324.8 L447.0 318.8 L447.5 322.6 L448.0 311.2 L448.5 322.0 L449.0 315.3 L449.5 322.0 L450.0 314.2 L450.5 321.8 L451.0 314.8 L451.5 318.8 L452.0 316.1 L452.5 322.5 L453.0 317.2 L453.5 321.7 L454.0 317.1 L454.5 323.7 L455.0 317.3 L455.5 322.0 L456.0 313.3 L456.5 320.9 L457.0 315.9 L457.5 327.1 L458.0 318.0 L458.5 324.9 L459.0 319.7 L459.5 326.7 L460.0 321.8 L460.5 332.9 L461.0 325.0 L461.5 328.8 L462.0 324.2 L462.5 332.6 L463.0 324.1 L463.5 330.6 L464.0 326.7 L464.5 331.7 L465.0 324.8 L465.5 333.2 L466.0 327.4 L466.5 329.1 L467.0 322.8 L467.5 338.6 L468.0 323.2 L468.5 327.8 L469.0 323.7 L469.5 328.5 L470.0 323.7 L470.5 329.4 L471.0 318.8 L471.5 329.1 L472.0 320.4 L472.5 329.6 L473.0 320.0 L473.5 328.7 L474.0 323.0 L474.5 326.1 L475.0 321.0 L475.5 326.6 L476.0 321.8 L476.5 325.1 L477.0 334.8 L477.5 324.6 L478.0 320.3 L478.5 324.0 L479.0 321.3 L479.5 325.8 L480.0 317.1 L480.5 324.5 L481.0 320.9 L481.5 325.1 L482.0 321.3 L482.5 324.8 L483.0 317.4 L483.5 325.4 L484.0 320.7 L484.5 325.3 L485.0 319.2 L485.5 324.3 L486.0 320.3 L486.5 324.6 L487.0 319.6 L487.5 326.1 L488.0 319.3 L488.5 324.8 L489.0 321.3 L489.5 326.0 L490.0 316.5 L490.5 329.6 L491.0 319.9 L491.5 322.8 L492.0 315.9 L492.5 323.4 L493.0 333.5 L493.5 325.1 L494.0 320.9 L494.5 322.6 L495.0 313.0 L495.5 323.5 L496.0 318.8 L496.5 328.4 L497.0 321.5 L497.5 330.0 L498.0 322.3 L498.5 332.0 L499.0 326.8 L499.5 331.1 L500.0 327.3 L500.5 331.3 L501.0 328.2 L501.5 333.0 L502.0 327.4 L502.5 334.9 L503.0 324.9 L503.5 332.7 L504.0 327.4 L504.5 335.5 L505.0 329.0 L505.5 335.0 L506.0 330.2 L506.5 335.4 L507.0 330.3 L507.5 345.1 L508.0 332.1 L508.5 338.0 L509.0 332.7 L509.5 336.5 L510.0 332.3 L510.5 337.4 L511.0 333.0 L511.5 337.0 L512.0 330.7 L512.5 338.3 L513.0 332.7 L513.5 337.2 L514.0 333.0 L514.5 335.4 L515.0 329.9 L515.5 340.3 L516.0 333.1 L516.5 336.2 L517.0 331.5 L517.5 334.4 L518.0 344.7 L518.5 338.3 L519.0 330.4 L519.5 336.0 L520.0 330.4 L520.5 336.0 L521.0 332.7 L521.5 335.9 L522.0 330.8 L522.5 342.6 L523.0 336.8 L523.5 340.2 L524.0 337.1 L524.5 340.9 L525.0 336.3 L525.5 339.6 L526.0 335.4 L526.5 341.8 L527.0 337.0 L527.5 340.8 L528.0 338.0 L528.5 341.7 L529.0 336.1 L529.5 342.5 L530.0 338.4 L530.5 343.9 L531.0 340.5 L531.5 343.8 L532.0 340.5 L532.5 345.6 L533.0 340.4 L533.5 342.1 L534.0 337.7 L534.5 343.7 L535.0 336.8 L535.5 341.5 L536.0 335.2 L536.5 341.2 L536.8 334.9 L536.8 402.2 L93.8 402.2 Z" fill="url(#gProt)" stroke="none"/>
    <path d="M93.8 402.2 L94.6 380.0 L95.3 350.0 L96.0 320.0 L96.6 290.0 L97.4 250.0 L98.7 200.0 L99.8 150.0 L100.4 100.0 L100.7 92.7 L101.0 100.0 L101.4 135.0 L102.2 195.0 L103.3 215.0 L104.3 234.0 L105.2 250.0 L106.0 262.0 L106.3 319.0 L107.0 268.0 L107.5 302.4 L108.0 258.2 L108.5 264.1 L108.8 242.0 L109.7 310.0 L110.0 274.2 L110.5 289.0 L111.0 274.4 L111.5 293.7 L112.0 280.0 L112.5 293.5 L113.0 285.2 L113.5 300.4 L114.2 324.0 L114.5 313.4 L115.0 285.1 L115.5 303.7 L116.0 293.5 L116.5 310.9 L117.0 289.2 L117.5 308.8 L118.0 286.5 L118.5 323.2 L119.2 312.0 L119.7 338.0 L120.2 355.0 L120.7 314.0 L121.2 336.0 L121.7 316.0 L122.2 342.0 L122.5 329.2 L122.8 318.0 L123.4 346.0 L123.9 368.0 L124.4 314.0 L124.9 336.0 L125.5 322.1 L126.0 294.2 L126.5 301.4 L127.0 286.0 L127.5 286.9 L128.0 310.5 L128.4 324.0 L129.0 265.5 L129.5 286.7 L130.0 262.3 L130.5 266.8 L131.0 251.1 L131.5 257.4 L132.0 236.6 L132.5 256.8 L133.0 233.7 L133.5 249.0 L134.0 211.0 L134.5 235.4 L135.0 205.3 L135.7 172.5 L136.0 186.0 L136.5 231.4 L137.0 221.6 L137.5 237.1 L138.0 218.7 L138.5 243.5 L139.0 206.9 L139.5 195.4 L140.0 204.5 L140.5 252.4 L141.0 216.0 L141.5 248.9 L142.0 240.9 L142.5 288.7 L143.0 256.4 L143.5 287.0 L144.0 239.8 L144.7 233.7 L145.0 252.4 L145.5 275.0 L146.0 251.0 L146.6 313.0 L147.0 259.5 L147.5 317.5 L148.0 272.0 L148.5 283.0 L149.0 265.3 L149.5 288.8 L150.0 264.0 L150.5 281.9 L151.0 251.0 L151.5 277.6 L152.0 254.7 L152.5 279.5 L153.0 238.0 L153.5 275.8 L154.0 241.5 L154.3 222.9 L155.0 231.8 L155.5 294.0 L156.0 224.5 L156.5 261.1 L156.8 224.8 L157.5 253.4 L158.0 242.4 L158.5 260.6 L159.0 252.9 L159.5 273.2 L160.0 253.8 L160.5 306.2 L161.0 260.9 L161.5 289.0 L162.0 252.2 L162.5 279.8 L163.0 270.1 L163.5 295.0 L164.0 264.7 L164.5 293.7 L165.0 270.1 L165.5 294.2 L166.0 279.5 L166.5 291.2 L167.0 285.3 L167.5 316.8 L168.0 279.4 L168.5 300.1 L169.0 310.0 L169.5 299.6 L170.0 273.8 L170.5 293.8 L171.0 272.7 L171.5 278.7 L172.0 270.4 L172.5 284.0 L173.0 266.0 L173.5 275.2 L174.0 260.6 L174.5 274.8 L175.0 261.5 L175.5 243.3 L176.0 259.5 L176.5 270.3 L177.0 294.7 L177.5 281.3 L178.0 269.8 L178.5 289.6 L179.0 283.9 L179.5 293.0 L180.0 283.3 L180.5 298.2 L181.0 301.0 L181.5 304.3 L182.0 285.3 L182.5 290.3 L183.0 267.2 L183.5 285.2 L184.0 269.0 L184.5 278.8 L185.0 266.4 L185.5 269.0 L186.0 260.2 L186.5 271.5 L187.0 251.7 L187.5 269.1 L188.0 252.3 L188.5 272.0 L189.0 244.2 L189.5 258.4 L190.0 245.8 L190.7 236.3 L191.0 252.9 L191.5 273.3 L192.0 254.0 L192.5 264.1 L193.0 243.6 L193.5 266.8 L194.0 257.3 L194.5 279.6 L195.0 271.6 L195.5 261.6 L196.0 242.9 L196.5 263.8 L197.0 249.4 L197.5 266.8 L198.0 244.9 L198.5 250.7 L199.0 232.6 L199.5 250.8 L200.0 230.0 L200.5 253.8 L201.0 241.3 L201.5 254.2 L202.0 238.0 L202.5 255.6 L203.0 238.0 L203.5 258.2 L204.0 240.4 L204.5 247.4 L205.0 228.9 L205.5 251.7 L206.0 235.7 L206.5 242.0 L207.0 231.0 L207.5 247.7 L208.0 229.5 L208.5 237.9 L209.0 230.0 L209.5 241.2 L209.8 210.0 L210.5 243.0 L211.0 258.6 L211.5 243.9 L212.0 227.2 L212.5 246.7 L213.0 228.4 L213.5 241.2 L214.0 225.2 L214.5 259.7 L215.0 219.2 L215.5 236.1 L216.0 224.7 L216.5 238.6 L217.0 227.0 L217.5 233.7 L218.0 224.4 L218.5 237.7 L219.0 226.8 L219.5 240.0 L220.0 230.6 L220.5 259.5 L221.0 232.8 L221.5 256.8 L222.0 231.5 L222.5 253.5 L223.0 246.2 L223.5 255.2 L224.0 241.3 L224.5 254.4 L225.0 248.9 L225.5 256.0 L226.0 243.6 L226.5 262.8 L227.0 279.9 L227.5 264.8 L228.0 253.2 L228.5 271.2 L229.0 256.8 L229.5 276.1 L230.0 254.6 L230.5 271.6 L231.0 268.0 L231.5 282.5 L232.0 259.0 L232.5 269.9 L233.0 251.9 L233.5 260.7 L234.0 281.5 L234.5 262.7 L235.0 243.2 L235.5 264.0 L236.0 238.8 L236.5 251.5 L237.0 235.2 L237.5 251.5 L238.0 231.9 L238.5 250.7 L239.0 232.1 L239.5 249.9 L240.0 233.3 L240.5 241.4 L241.0 228.8 L241.5 243.6 L242.0 226.1 L242.5 241.7 L243.0 223.0 L243.5 235.2 L244.0 224.0 L244.5 246.3 L245.0 216.1 L245.5 235.6 L246.0 220.2 L246.5 233.3 L247.0 210.3 L247.5 232.7 L248.0 207.0 L248.5 232.7 L249.0 226.0 L249.5 233.7 L250.0 220.7 L250.5 232.2 L251.0 220.2 L251.5 236.9 L252.0 220.7 L252.5 232.9 L253.0 224.9 L253.5 244.7 L254.0 225.5 L254.5 248.7 L255.0 219.6 L255.5 239.6 L256.0 222.8 L256.7 212.0 L257.0 215.2 L257.5 235.3 L258.0 222.5 L258.5 234.7 L259.0 218.4 L259.5 243.6 L260.0 226.2 L260.5 242.5 L261.0 228.1 L261.5 235.9 L262.0 228.7 L262.5 239.0 L263.0 216.0 L263.5 241.0 L264.0 240.1 L264.5 253.1 L265.0 246.1 L265.5 258.7 L266.0 277.0 L266.5 259.6 L267.0 252.6 L267.5 263.2 L268.0 256.9 L268.5 265.4 L269.0 251.3 L269.5 264.0 L270.0 246.2 L270.5 275.0 L271.0 258.1 L271.5 273.2 L272.0 246.9 L272.5 261.6 L273.0 246.4 L273.5 266.9 L274.0 264.9 L274.5 284.1 L275.0 257.0 L275.5 276.3 L276.0 265.5 L276.5 282.9 L277.0 263.6 L277.5 285.4 L278.0 276.7 L278.5 285.6 L279.0 277.9 L279.5 288.7 L280.0 269.8 L280.5 295.0 L281.0 276.0 L281.5 293.6 L282.0 296.5 L282.5 286.0 L283.0 276.8 L283.5 289.0 L284.0 272.0 L284.5 285.0 L285.0 277.9 L285.5 288.3 L286.0 283.1 L286.5 297.5 L287.0 277.5 L287.5 292.4 L288.0 307.1 L288.5 293.0 L289.0 286.1 L289.5 294.7 L290.0 286.9 L290.5 308.4 L291.0 285.3 L291.5 291.5 L292.0 283.2 L292.5 293.1 L293.0 282.9 L293.5 292.5 L294.0 276.1 L294.5 294.5 L295.0 269.7 L295.5 280.8 L296.0 271.7 L296.5 281.0 L297.0 270.4 L297.5 282.5 L298.0 267.2 L298.5 274.9 L299.0 278.2 L299.5 273.6 L300.0 263.5 L300.5 272.5 L301.0 257.3 L301.5 272.1 L302.0 252.6 L302.5 265.8 L303.0 257.9 L303.5 267.6 L304.0 258.1 L304.5 265.7 L305.0 271.7 L305.5 262.4 L306.0 244.8 L306.5 270.8 L307.0 246.4 L307.5 257.8 L308.0 240.0 L308.5 254.1 L309.0 268.1 L309.5 262.7 L310.0 250.6 L310.5 261.6 L311.0 243.9 L311.5 257.9 L312.0 250.7 L312.5 264.5 L313.0 254.8 L313.5 270.8 L314.0 261.2 L314.5 278.4 L315.0 265.5 L315.5 278.0 L316.0 269.0 L316.5 279.8 L317.0 265.9 L317.5 277.4 L318.0 271.5 L318.5 285.4 L319.0 275.1 L319.5 283.1 L320.0 271.8 L320.5 290.0 L321.0 272.0 L321.5 287.9 L322.0 282.8 L322.5 287.8 L323.0 281.2 L323.5 292.5 L324.0 285.2 L324.5 295.2 L325.0 288.6 L325.5 301.6 L326.0 286.5 L326.5 299.0 L327.0 293.1 L327.5 301.3 L328.0 288.3 L328.5 295.1 L329.0 285.2 L329.6 268.0 L330.0 284.6 L330.5 297.2 L331.0 290.4 L331.5 300.9 L332.0 289.7 L332.5 305.9 L333.0 295.0 L333.5 306.7 L334.0 293.7 L334.5 299.7 L335.0 295.3 L335.5 305.2 L336.0 297.8 L336.5 303.3 L337.0 295.3 L337.5 307.1 L338.0 301.2 L338.5 312.6 L339.0 299.5 L339.5 308.6 L340.0 300.5 L340.5 318.5 L341.0 298.7 L341.5 304.7 L342.0 298.0 L342.5 304.5 L343.0 296.3 L343.5 308.8 L344.0 298.1 L344.5 302.7 L345.0 297.3 L345.5 307.9 L346.0 296.6 L346.5 308.7 L347.0 298.5 L347.5 305.9 L348.0 295.7 L348.5 300.2 L349.0 291.3 L349.5 299.0 L350.0 294.0 L350.5 300.1 L351.0 293.2 L351.5 299.8 L352.0 295.0 L352.5 304.9 L353.0 293.7 L353.5 300.3 L354.0 294.2 L354.5 299.3 L355.0 293.2 L355.5 298.2 L356.0 284.8 L356.5 293.4 L357.0 286.4 L357.5 292.5 L358.0 283.8 L358.5 290.8 L359.0 281.7 L359.5 282.8 L360.0 272.5 L360.5 287.4 L361.0 278.3 L361.5 287.6 L362.0 279.4 L362.5 286.0 L363.0 280.5 L363.5 292.7 L364.0 282.1 L364.5 287.4 L365.0 283.4 L365.5 286.1 L366.0 277.4 L366.5 286.9 L367.0 278.2 L367.5 288.8 L368.0 295.9 L368.5 290.5 L369.0 280.9 L369.5 293.2 L370.0 288.1 L370.5 298.4 L371.0 292.8 L371.5 300.1 L372.0 288.5 L372.5 297.0 L373.0 295.1 L373.5 300.8 L374.0 296.7 L374.5 302.8 L375.0 292.3 L375.5 304.3 L376.0 293.7 L376.5 306.3 L377.0 293.7 L377.5 307.1 L378.0 300.8 L378.5 310.5 L379.0 302.7 L379.5 316.5 L380.0 306.9 L380.5 316.5 L381.0 302.7 L381.5 315.4 L382.0 306.8 L382.5 317.3 L383.0 308.4 L383.5 322.4 L384.0 310.4 L384.5 316.6 L385.0 312.0 L385.5 322.2 L386.0 309.8 L386.5 320.1 L387.0 313.3 L387.5 319.4 L388.0 312.8 L388.5 323.0 L389.0 310.1 L389.5 318.6 L390.0 333.3 L390.5 320.7 L391.0 310.6 L391.5 323.4 L392.0 326.2 L392.5 319.1 L393.0 310.7 L393.5 325.0 L394.0 314.9 L394.5 321.1 L395.0 311.1 L395.5 319.0 L396.0 307.9 L396.5 314.0 L397.0 304.7 L397.5 313.4 L398.0 299.5 L398.5 310.9 L399.0 304.0 L399.5 309.2 L400.0 304.3 L400.5 307.4 L401.0 301.5 L401.6 292.0 L402.0 293.5 L402.5 307.6 L403.0 298.3 L403.5 308.9 L404.0 303.7 L404.5 307.8 L405.0 302.8 L405.5 310.5 L406.0 304.9 L406.5 309.2 L407.0 300.8 L407.5 311.4 L408.0 308.4 L408.5 312.2 L409.0 302.7 L409.5 313.8 L410.0 311.7 L410.5 324.7 L411.0 325.1 L411.5 314.2 L412.0 311.7 L412.5 314.4 L413.0 311.3 L413.5 316.1 L414.0 309.8 L414.5 317.8 L415.0 309.2 L415.5 315.2 L416.0 308.8 L416.5 324.3 L417.0 305.0 L417.5 314.9 L418.0 305.1 L418.5 309.4 L419.0 304.4 L419.5 313.3 L420.0 305.3 L420.5 312.1 L421.0 302.9 L421.5 308.0 L422.0 303.3 L422.5 314.0 L423.0 317.2 L423.5 309.5 L424.0 299.5 L424.5 306.5 L425.0 303.5 L425.5 308.1 L426.0 306.4 L426.5 311.3 L427.0 308.4 L427.5 315.3 L428.0 308.1 L428.5 314.0 L429.0 307.6 L429.5 318.7 L430.0 306.1 L430.5 314.0 L431.0 307.4 L431.5 318.3 L432.0 307.1 L432.5 317.4 L433.0 311.4 L433.5 316.7 L434.0 307.0 L434.5 316.0 L435.0 312.7 L435.5 317.4 L436.0 314.2 L436.5 320.6 L437.0 314.7 L437.5 319.0 L438.0 313.0 L438.5 321.0 L439.0 313.1 L439.5 322.2 L440.0 316.8 L440.5 322.2 L441.0 316.7 L441.5 322.8 L442.0 313.5 L442.5 323.8 L443.0 321.2 L443.5 325.6 L444.0 319.2 L444.5 323.3 L445.0 316.5 L445.5 326.2 L446.0 316.6 L446.5 324.8 L447.0 318.8 L447.5 322.6 L448.0 311.2 L448.5 322.0 L449.0 315.3 L449.5 322.0 L450.0 314.2 L450.5 321.8 L451.0 314.8 L451.5 318.8 L452.0 316.1 L452.5 322.5 L453.0 317.2 L453.5 321.7 L454.0 317.1 L454.5 323.7 L455.0 317.3 L455.5 322.0 L456.0 313.3 L456.5 320.9 L457.0 315.9 L457.5 327.1 L458.0 318.0 L458.5 324.9 L459.0 319.7 L459.5 326.7 L460.0 321.8 L460.5 332.9 L461.0 325.0 L461.5 328.8 L462.0 324.2 L462.5 332.6 L463.0 324.1 L463.5 330.6 L464.0 326.7 L464.5 331.7 L465.0 324.8 L465.5 333.2 L466.0 327.4 L466.5 329.1 L467.0 322.8 L467.5 338.6 L468.0 323.2 L468.5 327.8 L469.0 323.7 L469.5 328.5 L470.0 323.7 L470.5 329.4 L471.0 318.8 L471.5 329.1 L472.0 320.4 L472.5 329.6 L473.0 320.0 L473.5 328.7 L474.0 323.0 L474.5 326.1 L475.0 321.0 L475.5 326.6 L476.0 321.8 L476.5 325.1 L477.0 334.8 L477.5 324.6 L478.0 320.3 L478.5 324.0 L479.0 321.3 L479.5 325.8 L480.0 317.1 L480.5 324.5 L481.0 320.9 L481.5 325.1 L482.0 321.3 L482.5 324.8 L483.0 317.4 L483.5 325.4 L484.0 320.7 L484.5 325.3 L485.0 319.2 L485.5 324.3 L486.0 320.3 L486.5 324.6 L487.0 319.6 L487.5 326.1 L488.0 319.3 L488.5 324.8 L489.0 321.3 L489.5 326.0 L490.0 316.5 L490.5 329.6 L491.0 319.9 L491.5 322.8 L492.0 315.9 L492.5 323.4 L493.0 333.5 L493.5 325.1 L494.0 320.9 L494.5 322.6 L495.0 313.0 L495.5 323.5 L496.0 318.8 L496.5 328.4 L497.0 321.5 L497.5 330.0 L498.0 322.3 L498.5 332.0 L499.0 326.8 L499.5 331.1 L500.0 327.3 L500.5 331.3 L501.0 328.2 L501.5 333.0 L502.0 327.4 L502.5 334.9 L503.0 324.9 L503.5 332.7 L504.0 327.4 L504.5 335.5 L505.0 329.0 L505.5 335.0 L506.0 330.2 L506.5 335.4 L507.0 330.3 L507.5 345.1 L508.0 332.1 L508.5 338.0 L509.0 332.7 L509.5 336.5 L510.0 332.3 L510.5 337.4 L511.0 333.0 L511.5 337.0 L512.0 330.7 L512.5 338.3 L513.0 332.7 L513.5 337.2 L514.0 333.0 L514.5 335.4 L515.0 329.9 L515.5 340.3 L516.0 333.1 L516.5 336.2 L517.0 331.5 L517.5 334.4 L518.0 344.7 L518.5 338.3 L519.0 330.4 L519.5 336.0 L520.0 330.4 L520.5 336.0 L521.0 332.7 L521.5 335.9 L522.0 330.8 L522.5 342.6 L523.0 336.8 L523.5 340.2 L524.0 337.1 L524.5 340.9 L525.0 336.3 L525.5 339.6 L526.0 335.4 L526.5 341.8 L527.0 337.0 L527.5 340.8 L528.0 338.0 L528.5 341.7 L529.0 336.1 L529.5 342.5 L530.0 338.4 L530.5 343.9 L531.0 340.5 L531.5 343.8 L532.0 340.5 L532.5 345.6 L533.0 340.4 L533.5 342.1 L534.0 337.7 L534.5 343.7 L535.0 336.8 L535.5 341.5 L536.0 335.2 L536.5 341.2 L536.8 334.9" fill="none" stroke="#000" stroke-width="2.1" stroke-linejoin="miter" stroke-miterlimit="4"/>
  </g>
  <!-- right axis drawn above the fills -->
  <line x1="536.9" y1="10.3" x2="536.9" y2="402.5" stroke="#000" stroke-width="2.6"/>
  <line x1="52.6" y1="10.3" x2="52.6" y2="402.5" stroke="#000" stroke-width="2.6"/>

  <!-- annotation arrows -->
  <g stroke="#333" stroke-width="0.75" stroke-dasharray="2.4 1.4" fill="none">
    <line x1="96" y1="139.5" x2="307" y2="103.4"/>
    <line x1="104.5" y1="189.4" x2="317" y2="153.1"/>
  </g>
  <g fill="#000" stroke="none">
    <polygon points="315.4,102 305.6,101.2 306.4,106"/>
    <polygon points="325.7,151.6 315.9,150.8 316.7,155.6"/>
  </g>
  <g class="note">
    <text x="332.4" y="109.5" textLength="104.6" lengthAdjust="spacingAndGlyphs">r[O]=2.81 Å</text>
    <text x="338.6" y="158.8" textLength="104.8" lengthAdjust="spacingAndGlyphs">r[O]=2.95 Å</text>
  </g>

  <!-- legend -->
  <g class="legend">
    <path d="M351.7 29.5 V81.6 H507" fill="none" stroke="#bcbcbc" stroke-width="1"/>
    <rect x="354.5" y="31.9" width="45" height="22" fill="url(#gNeutralL)" stroke="#ff00ff" stroke-width="1.6"/>
    <rect x="354.5" y="57.3" width="45" height="21.8" fill="url(#gProtL)" stroke="#000" stroke-width="1.6"/>
    <text x="405.5" y="49.8">Neutral</text>
    <text x="405.5" y="74.7">Protonated</text>
  </g>

  <!-- tick labels -->
  <g class="tick"><text x="77.8" y="427" text-anchor="middle">2</text><text x="128.8" y="427" text-anchor="middle">4</text><text x="179.8" y="427" text-anchor="middle">6</text><text x="230.8" y="427" text-anchor="middle">8</text><text x="281.8" y="427" text-anchor="middle">10</text><text x="332.8" y="427" text-anchor="middle">12</text><text x="383.8" y="427" text-anchor="middle">14</text><text x="434.8" y="427" text-anchor="middle">16</text><text x="485.8" y="427" text-anchor="middle">18</text><text x="536.8" y="427" text-anchor="middle">20</text><text x="39.6" y="406.8" text-anchor="end">0</text><text x="39.6" y="354.8" text-anchor="end">1</text><text x="39.6" y="302.8" text-anchor="end">2</text><text x="39.6" y="250.8" text-anchor="end">3</text><text x="39.6" y="198.8" text-anchor="end">4</text><text x="39.6" y="146.8" text-anchor="end">5</text><text x="39.6" y="94.8" text-anchor="end">6</text><text x="39.6" y="42.8" text-anchor="end">7</text></g>

  <!-- axis titles -->
  <text class="axis-title" x="274.3" y="459.4" textLength="40.2" lengthAdjust="spacingAndGlyphs">r [Å]</text>
  <text class="axis-title" transform="translate(21.4 225.6) rotate(-90)" textLength="38" lengthAdjust="spacingAndGlyphs">g [r]</text>
</svg>
</body>
</html>
